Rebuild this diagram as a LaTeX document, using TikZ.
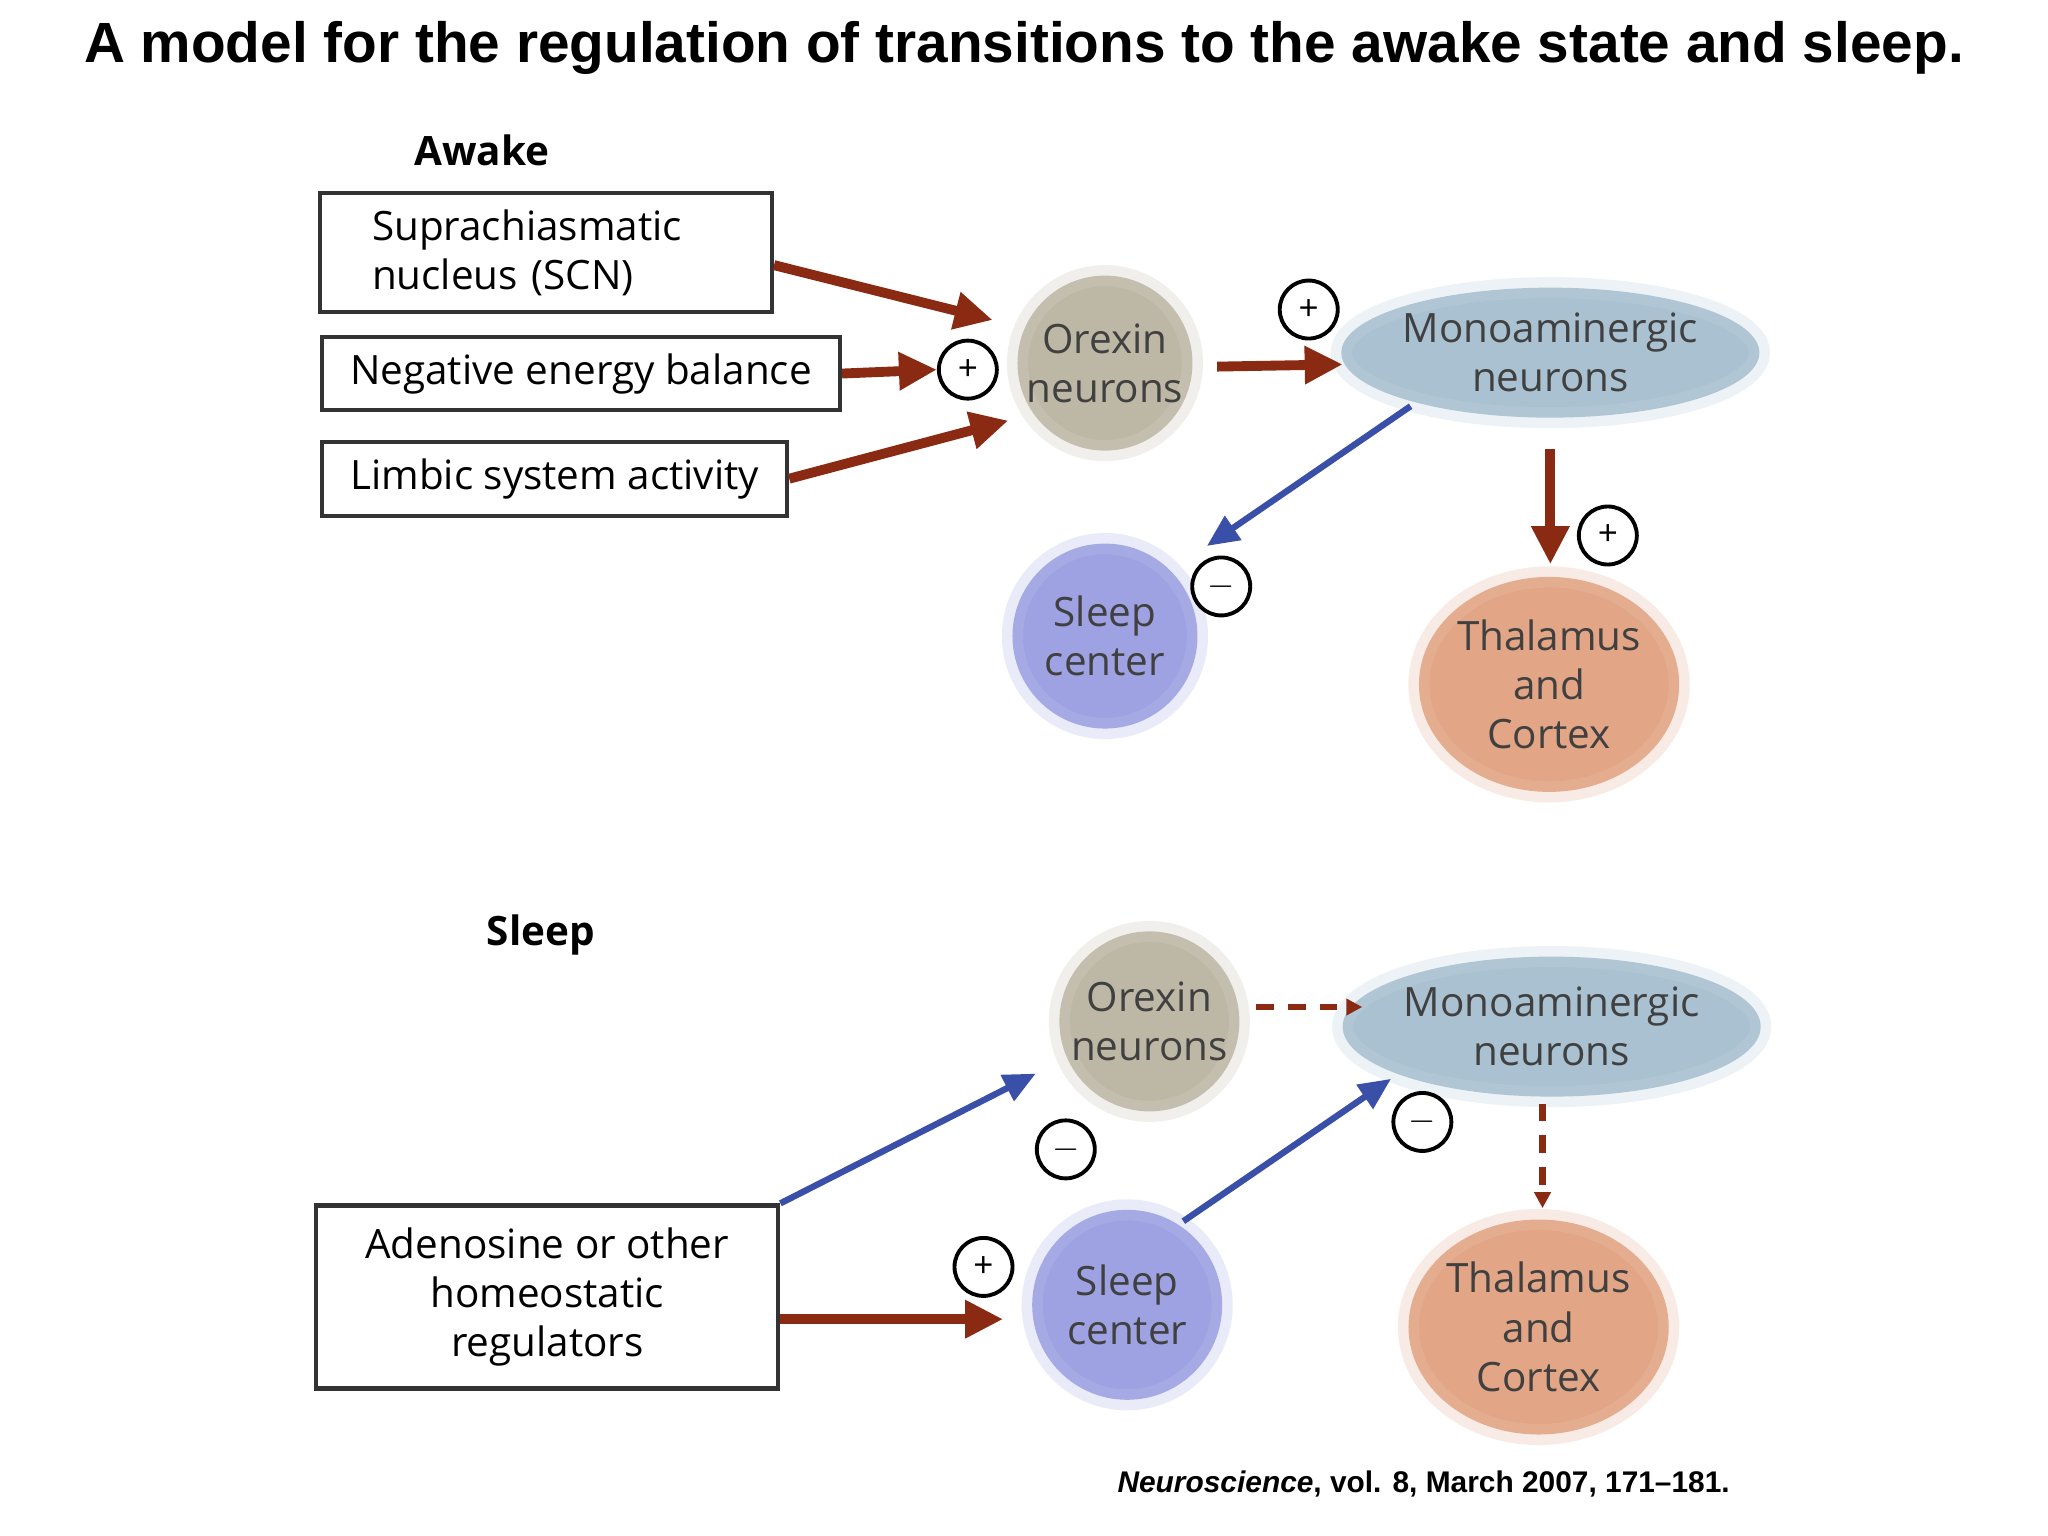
\documentclass[tikz,border=0pt]{standalone}
\usepackage{fontspec}
\setmainfont{Open Sans}
\newfontfamily\arial{Liberation Sans}
\usetikzlibrary{arrows.meta,shapes.geometric}
\definecolor{rd}{HTML}{8A2A12}
\definecolor{bl}{HTML}{3A50A8}
\definecolor{orx}{HTML}{BDB8A6}
\definecolor{mono}{HTML}{A9C1D0}
\definecolor{slp}{HTML}{9EA2E2}
\definecolor{thal}{HTML}{E2A585}
\begin{document}
\begin{tikzpicture}[x=0.01306cm,y=-0.01306cm,
  box/.style={draw=black!80,line width=1.2pt,align=left,font=\fontsize{11.5}{14}\selectfont,inner xsep=8pt},
  blob/.style={fill=#1,draw=#1!70,line width=6pt,draw opacity=0.3,align=center,text=black!75,font=\fontsize{11.5}{14}\selectfont,inner sep=0pt},
  sgn/.style={circle,draw=black,line width=1.1pt,fill=white,minimum size=0.58cm,inner sep=0pt,font=\fontsize{10}{10}\selectfont},
  ra/.style={rd,line width=2.8pt,-{Triangle[length=0.38cm,width=0.36cm]}},
  ba/.style={bl,line width=1.8pt,-{Triangle[length=0.32cm,width=0.28cm]}},
  da/.style={rd,line width=1.8pt,dashed,dash pattern=on 5pt off 4pt,-{Triangle[length=0.16cm,width=0.16cm]}}]
\useasboundingbox (0,0) rectangle (1568,1176);
\fill[white] (0,0) rectangle (1568,1176);
\node (title) at (784,37) {\arial\bfseries\fontsize{16.15}{19}\selectfont A model for the regulation of transitions to the awake state and sleep.};
\node (awake) at (369,115) {\bfseries\fontsize{11.5}{14}\selectfont Awake};
\node (sleep) at (414,716) {\bfseries\fontsize{11.5}{14}\selectfont Sleep};
% awake
\node[box,minimum width=4.52cm,minimum height=1.19cm,text width=3.9cm] (scn) at (418,193.5) {\hspace*{6pt}Suprachiasmatic\\\hspace*{6pt}nucleus (SCN)};
\node[box,anchor=west,minimum height=0.73cm] (neb) at (245,286) {Negative energy balance};
\node[box,anchor=west,minimum height=0.74cm] (lim) at (245,366.5) {Limbic system activity};
\node[blob=orx,circle,minimum size=1.75cm] (or1) at (846,278) {Orexin\\neurons};
\node[blob=mono,ellipse,minimum width=3.45cm,minimum height=1.3cm] (mo1) at (1187,270) {Monoaminergic\\neurons};
\node[blob=slp,circle,minimum size=1.85cm] (sc1) at (846,487) {Sleep\\center};
\node[blob=thal,ellipse,minimum width=2.2cm,minimum height=2.15cm] (th1) at (1186,524) {Thalamus\\and\\Cortex};
\node[sgn] (p1) at (741,283) {+};
\node[sgn] (p2) at (1002,237) {+};
\node[sgn] (m1) at (935,449) {$-$};
\node[sgn] (p3) at (1231,410) {+};
\coordinate (s1) at (0,203);
\coordinate (e1) at (760,245); \coordinate (e3) at (772,322);
\coordinate (e4) at (1028,279); \coordinate (e5) at (1187,432);
\coordinate (e6) at (924,418);
\draw[ra] (scn.east |- s1) -- (e1);
\draw[ra] (neb.east) -- (p1.west);
\draw[ra] (lim.east) -- (e3);
\draw[ra] ([yshift=-1pt,xshift=4pt]or1.east) -- (e4);
\draw[ra] ([yshift=-6pt]mo1.south) -- (e5);
\draw[ba] (1080,311) coordinate (s6) -- (e6);
% sleep
\node[box,align=center,minimum width=4.62cm,minimum height=1.83cm] (ad) at (419,993) {Adenosine or other\\homeostatic\\regulators};
\node[blob=orx,circle,minimum size=1.8cm] (or2) at (880,782) {Orexin\\neurons};
\node[blob=mono,ellipse,minimum width=3.45cm,minimum height=1.4cm] (mo2) at (1188,786) {Monoaminergic\\neurons};
\node[blob=slp,circle,minimum size=1.9cm] (sc2) at (863,999) {Sleep\\center};
\node[blob=thal,ellipse,minimum width=2.15cm,minimum height=2.15cm] (th2) at (1178,1016) {Thalamus\\and\\Cortex};
\node[sgn] (m2) at (816,880) {$-$};
\node[sgn] (p4) at (753,970) {+};
\node[sgn] (m3) at (1089,859) {$-$};
\coordinate (f1) at (1043,771); \coordinate (f2) at (1181,925);
\coordinate (f3) at (793,822); \coordinate (f4) at (1065,826); \coordinate (f5) at (768,1010);
\draw[da] (962,771) -- (f1);
\draw[da] (1181,845) -- (f2);
\draw[ba] (ad.north east) -- (f3);
\draw[ba] (906,935) -- (f4);
\draw[ra] (ad.east |- f5) -- (f5);
\node (cite) at (1090,1136) {\arial\bfseries\fontsize{8.5}{10}\selectfont\textit{Neuroscience}, vol. 8, March 2007, 171–181.};
\end{tikzpicture}
\end{document}
